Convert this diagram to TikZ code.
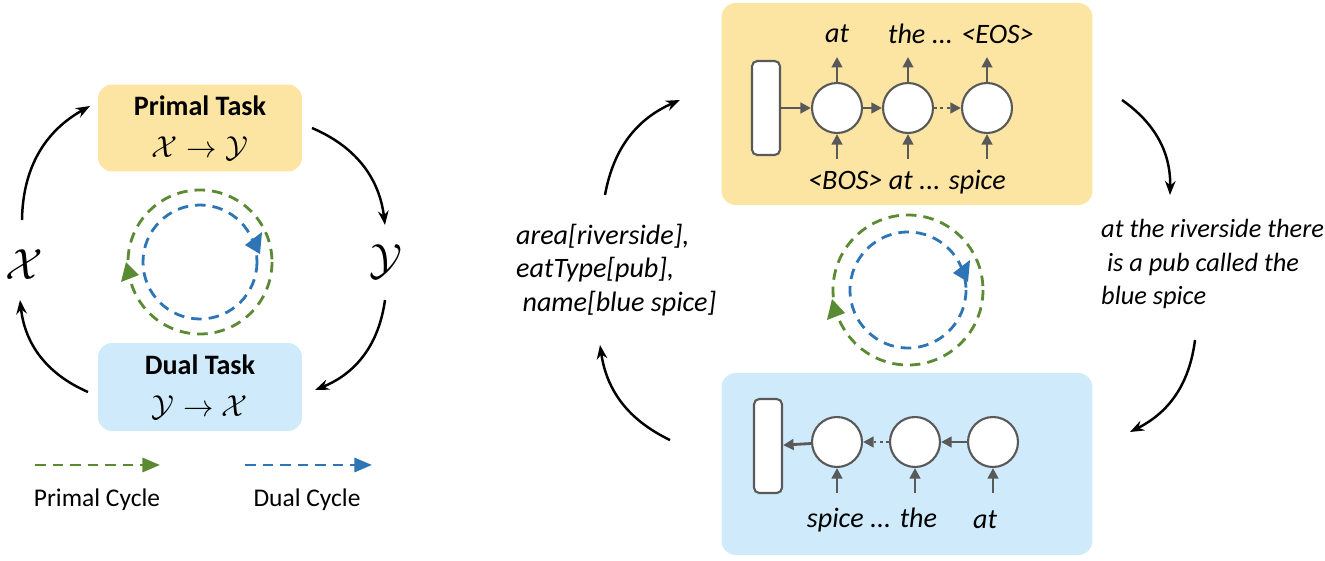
\documentclass[tikz,border=0pt]{standalone}
\usepackage{fontspec}
\setmainfont{Carlito}
\usetikzlibrary{arrows.meta}
\definecolor{yel}{HTML}{FCE4A2}
\definecolor{blu}{HTML}{CFEBFB}
\definecolor{dgreen}{HTML}{5A8A32}
\definecolor{dblue}{HTML}{2E75B6}
\definecolor{gr}{HTML}{595959}
\begin{document}
\begin{tikzpicture}[x={(0.02cm,0)},y={(0,-0.02cm)},
  box/.style={rounded corners=8pt,draw=none},
  cyc/.style={-{Stealth[length=8pt,width=6pt]},line width=1.4pt,black},
  gd/.style={dgreen,line width=1.6pt,dash pattern=on 6pt off 4pt},
  bd/.style={dblue,line width=1.6pt,dash pattern=on 6pt off 4pt},
  cell/.style={circle,draw=gr,fill=white,line width=1.2pt,minimum size=1.0cm,inner sep=0},
  enc/.style={rounded corners=3pt,draw=gr,fill=white,line width=1.2pt,minimum width=0.56cm,minimum height=1.88cm},
  ga/.style={-{Triangle[length=6pt,width=6pt]},gr,line width=1.6pt},
  lab/.style={font=\itshape\fontsize{16}{19}\selectfont}]
\useasboundingbox (0,0) rectangle (1325,561);
% left
\node[box,fill=yel,minimum width=4.08cm,minimum height=1.74cm,align=center,font=\fontsize{16}{24}\selectfont] (pt) at (200,128)
  {\bfseries Primal Task\\$\mathcal{X}\rightarrow\mathcal{Y}$};
\node[box,fill=blu,minimum width=4.08cm,minimum height=1.76cm,align=center,font=\fontsize{16}{24}\selectfont] (dt) at (200,387)
  {\bfseries Dual Task\\$\mathcal{Y}\rightarrow\mathcal{X}$};
\node (x) at (24,265) {\fontsize{26}{26}\selectfont$\mathcal{X}$};
\node (y) at (386,262) {\fontsize{26}{26}\selectfont$\mathcal{Y}$};
\coordinate (a1) at (22,220); \coordinate (a2) at (90,106);
\coordinate (b1) at (312,128); \coordinate (b2) at (385,225);
\coordinate (c1) at (385,300); \coordinate (c2) at (315,390);
\coordinate (d1) at (88,392); \coordinate (d2) at (20,300);
\draw[cyc] (a1) to[bend left=30] (a2);
\draw[cyc] (b1) to[bend left=30] (b2);
\draw[cyc] (c1) to[bend left=30] (c2);
\draw[cyc] (d1) to[bend left=30] (d2);
\coordinate (lc) at (200,262);
\draw[gd] (lc) circle[radius=72];
\draw[bd] (lc) circle[radius=57];
\fill[dgreen] (121,282) -- (139,275) -- (126,262) -- cycle;
\fill[dblue] (262,232) -- (260,254) -- (245,245) -- cycle;
% legend
\coordinate (g1) at (35,465); \coordinate (g2) at (160,465);
\coordinate (h1) at (245,465); \coordinate (h2) at (372,465);
\draw[gd,-{Triangle[length=10pt,width=8pt]}] (g1) -- (g2);
\draw[bd,-{Triangle[length=10pt,width=8pt]}] (h1) -- (h2);
\node[font=\fontsize{14.5}{16}\selectfont] (pl) at (97,500) {Primal Cycle};
\node[font=\fontsize{14.5}{16}\selectfont] (dl) at (307,500) {Dual Cycle};
% right top
\node[box,fill=yel,minimum width=7.42cm,minimum height=4.04cm] (tb) at (907,104) {};
\node[enc] (e1) at (766,108) {};
\node[cell] (t1) at (837,108) {};
\node[cell] (t2) at (908,108) {};
\node[cell] (t3) at (987,108) {};
\draw[ga] (e1) -- (t1);
\draw[ga] (t1) -- (t2);
\draw[ga,dotted] (t2) -- (t3);
\foreach \n in {t1,t2,t3}{
  \coordinate (\n u) at ([yshift=0.5cm]\n.north);
  \coordinate (\n d) at ([yshift=-0.5cm]\n.south);
  \draw[ga] (\n.north) -- (\n u);
  \draw[ga] (\n d) -- (\n.south);}
\node[lab] (o1) at (837,34) {at};
\node[lab] (o2) at (961,34) {the ... <EOS>};
\node[lab] (i1) at (907,182) {<BOS> at ... spice};
% right bottom
\node[box,fill=blu,minimum width=7.42cm,minimum height=3.64cm] (bb) at (907,464) {};
\node[enc] (e2) at (768,446) {};
\node[cell] (s1) at (837,442) {};
\node[cell] (s2) at (915,442) {};
\node[cell] (s3) at (993,442) {};
\draw[ga] (s1) -- (e2);
\draw[ga,dotted] (s2) -- (s1);
\draw[ga] (s3) -- (s2);
\foreach \n in {s1,s2,s3}{
  \coordinate (\n d) at ([yshift=-0.5cm]\n.south);
  \draw[ga] (\n d) -- (\n.south);}
\node[lab] (j1) at (872,520) {spice ... the};
\node[lab] (j2) at (985,520) {at};
% side texts
\node[lab,align=left,anchor=west] (mr) at (510,270) {area[riverside],\\eatType[pub],\\\ name[blue spice]};
\node[align=left,anchor=west,font=\itshape\fontsize{15}{19}\selectfont] (tx) at (1095,264) {at the riverside there\\\ is a pub called the\\blue spice};
% right cycle arrows
\coordinate (p1) at (605,195); \coordinate (p2) at (680,100);
\coordinate (q1) at (1122,100); \coordinate (q2) at (1170,195);
\coordinate (r1) at (1195,340); \coordinate (r2) at (1130,432);
\coordinate (u1) at (670,440); \coordinate (u2) at (600,345);
\draw[cyc] (p1) to[bend left=28] (p2);
\draw[cyc] (q1) to[bend left=28] (q2);
\draw[cyc] (r1) to[bend left=28] (r2);
\draw[cyc] (u1) to[bend left=28] (u2);
\coordinate (rc) at (908,290);
\draw[gd] (rc) circle[radius=75];
\draw[bd] (rc) circle[radius=58];
\fill[dgreen] (827,320) -- (845,313) -- (832,299) -- cycle;
\fill[dblue] (970,260) -- (968,282) -- (953,273) -- cycle;
\end{tikzpicture}
\end{document}
